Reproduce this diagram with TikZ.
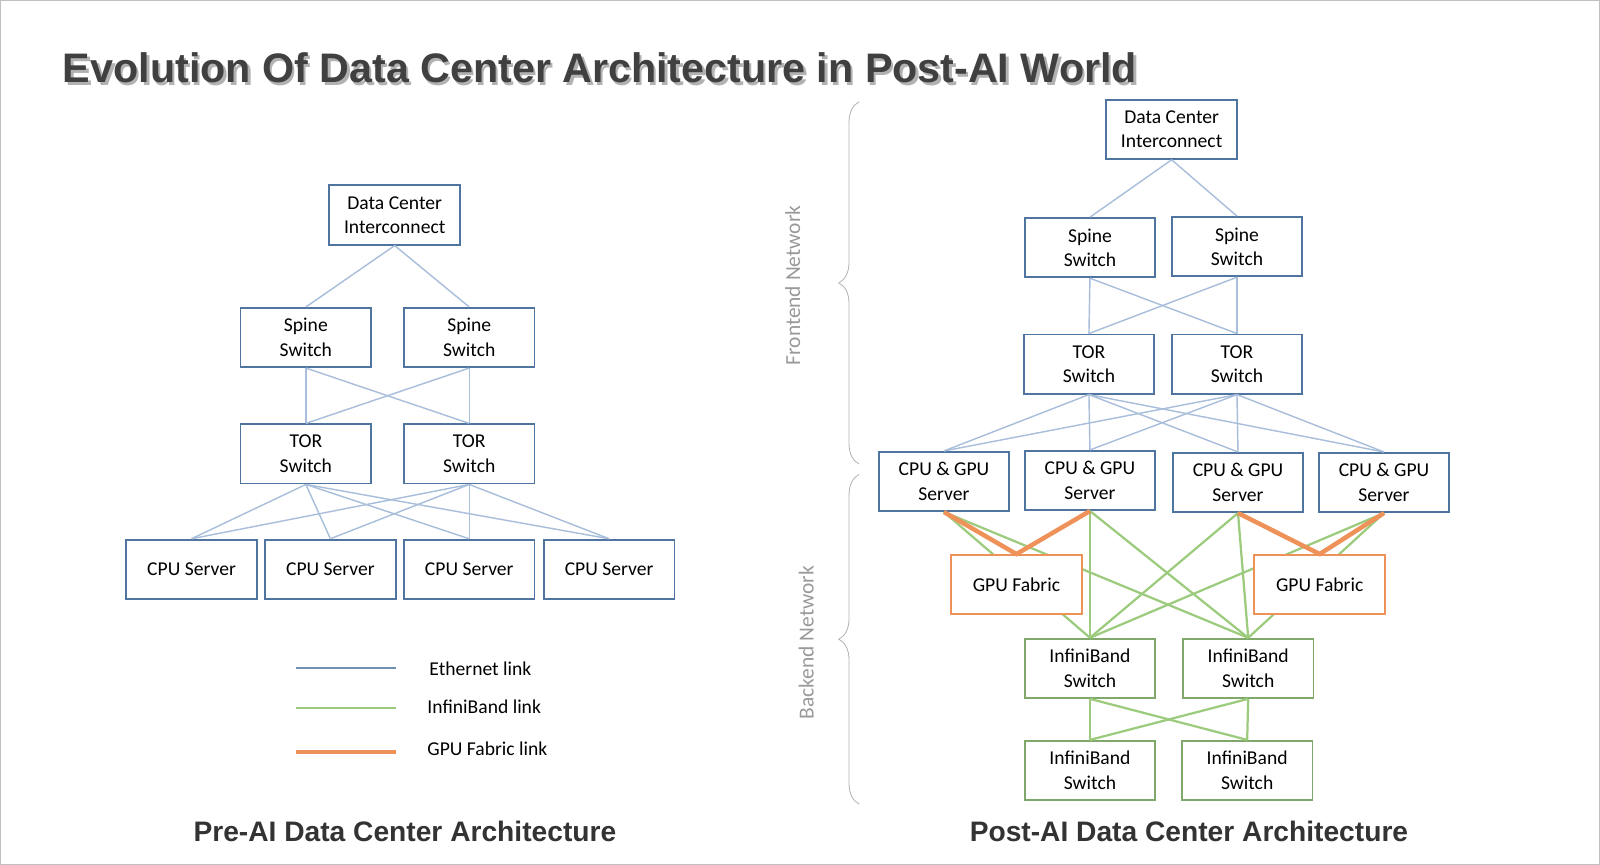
\documentclass[tikz,border=0pt]{standalone}
\usepackage{fontspec}
\setmainfont{Carlito}
\newfontfamily\headfont{Liberation Sans}
\usetikzlibrary{decorations.pathreplacing}
\definecolor{boxblue}{HTML}{4F74A0}
\definecolor{linkblue}{HTML}{A8BEDA}
\definecolor{linkgreen}{HTML}{9CCB7E}
\definecolor{boxgreen}{HTML}{7FA86A}
\definecolor{fabric}{HTML}{EF9259}
\begin{document}
\begin{tikzpicture}[x=0.5pt,y=-0.5pt]

		\tikzset{box/.style = {draw=boxblue,line width=0.9pt,fill=white,minimum width=64pt,minimum height=29pt,align=center,font=\fontsize{9.6}{12}\selectfont,inner sep=1pt}}
		\tikzset{ibox/.style = {box,draw=boxgreen}}
		\tikzset{fbox/.style = {box,draw=fabric}}
		\tikzset{eth/.style = {draw=linkblue,line width=0.7pt}}
		\tikzset{ib/.style = {draw=linkgreen,line width=1.1pt}}
		\tikzset{gf/.style = {draw=fabric,line width=2.2pt}}
		\tikzset{side/.style = {text=gray!80,font=\fontsize{10.5}{12}\selectfont,rotate=90}}
		\tikzset{legend/.style = {anchor=west,font=\fontsize{9.6}{11}\selectfont}}
		\tikzset{caption/.style = {font=\headfont\bfseries\fontsize{13.8}{16}\selectfont,text=black!80}}
		% frame and title
		\draw[gray!50,line width=0.6pt] (1,1) rectangle (1567,847);
		\node[anchor=west,font=\headfont\bfseries\fontsize{20.2}{23}\selectfont,text=black!30] (shadow) at (57.5,69.5) {Evolution Of Data Center Architecture in Post-AI World};
		\node[anchor=west,font=\headfont\bfseries\fontsize{20.2}{23}\selectfont,text=black!75] (title) at (55,67) {Evolution Of Data Center Architecture in Post-AI World};
		% left: pre-AI
		\node[box] (ldci) at (387,211) {Data Center\\Interconnect};
		\node[box] (lsp1) at (300,331) {Spine\\Switch};
		\node[box] (lsp2) at (460,331) {Spine\\Switch};
		\node[box] (ltor1) at (300,445) {TOR\\Switch};
		\node[box] (ltor2) at (460,445) {TOR\\Switch};
		\foreach \x [count=\i] in {188,324,460,597}
			\node[box] (lsrv\i) at (\x,558) {CPU Server};
		\draw[eth] (ldci.south) -- (lsp1.north) (ldci.south) -- (lsp2.north);
		\foreach \s in {1,2} \foreach \t in {1,2}
			\draw[eth] (lsp\s.south) -- (ltor\t.north);
		\foreach \t in {1,2} \foreach \s in {1,...,4}
			\draw[eth] (ltor\t.south) -- (lsrv\s.north);
		% legend
		\coordinate (e1) at (290,655); \coordinate (e2) at (388,655);
		\coordinate (i1) at (290,694); \coordinate (i2) at (388,694);
		\coordinate (g1) at (290,737); \coordinate (g2) at (388,737);
		\draw[draw=boxblue!80,line width=1.1pt] (e1) -- (e2);
		\draw[ib] (i1) -- (i2);
		\draw[gf] (g1) -- (g2);
		\node[legend] (le) at (414,655) {Ethernet link};
		\node[legend] (li) at (412,693) {InfiniBand link};
		\node[legend] (lg) at (412,734) {GPU Fabric link};
		\node[caption] (lcap) at (397,815) {Pre-AI Data Center Architecture};
		% right: post-AI
		\node[box] (rdci) at (1148,127) {Data Center\\Interconnect};
		\node[box] (rsp1) at (1068,243) {Spine\\Switch};
		\node[box] (rsp2) at (1212,242) {Spine\\Switch};
		\node[box] (rtor1) at (1067,357) {TOR\\Switch};
		\node[box] (rtor2) at (1212,357) {TOR\\Switch};
		\node[box] (rsrv1) at (925,472) {CPU \& GPU\\Server};
		\node[box] (rsrv2) at (1068,471) {CPU \& GPU\\Server};
		\node[box] (rsrv3) at (1213,473) {CPU \& GPU\\Server};
		\node[box] (rsrv4) at (1356,473) {CPU \& GPU\\Server};
		\node[ibox] (rib1) at (1068,655) {InfiniBand\\Switch};
		\node[ibox] (rib2) at (1223,655) {InfiniBand\\Switch};
		\node[ibox] (rib3) at (1068,755) {InfiniBand\\Switch};
		\node[ibox] (rib4) at (1222,755) {InfiniBand\\Switch};
		%links
		\draw[eth] (rdci.south) -- (rsp1.north) (rdci.south) -- (rsp2.north);
		\foreach \s in {1,2} \foreach \t in {1,2}
			\draw[eth] (rsp\s.south) -- (rtor\t.north);
		\foreach \t in {1,2} \foreach \s in {1,...,4}
			\draw[eth] (rtor\t.south) -- (rsrv\s.north);
		\foreach \s in {1,...,4} \foreach \t in {1,2}
			\draw[ib] (rsrv\s.south) -- (rib\t.north);
		\foreach \s in {1,2} \foreach \t in {3,4}
			\draw[ib] (rib\s.south) -- (rib\t.north);
		\node[fbox] (rgf1) at (996,573) {GPU Fabric};
		\node[fbox] (rgf2) at (1293,573) {GPU Fabric};
		\draw[gf] (rsrv1.south) -- (rgf1.north) -- (rsrv2.south);
		\draw[gf] (rsrv3.south) -- (rgf2.north) -- (rsrv4.south);
		% braces
		\coordinate (fb1) at (842,455); \coordinate (fb2) at (842,100);
		\coordinate (bb1) at (842,788); \coordinate (bb2) at (842,465);
		\draw[gray!60,decorate,decoration={brace,amplitude=10pt}] (fb1) -- (fb2);
		\draw[gray!60,decorate,decoration={brace,amplitude=10pt}] (bb1) -- (bb2);
		\node[side] (fnet) at (777,280) {Frontend Network};
		\node[side] (bnet) at (790,630) {Backend Network};
		\node[caption] (rcap) at (1165,815) {Post-AI Data Center Architecture};
\end{tikzpicture}
\end{document}
